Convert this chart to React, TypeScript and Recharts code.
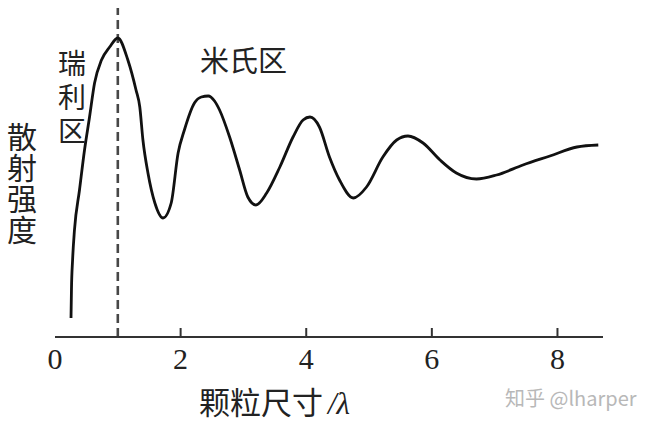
import React from 'react';
import { LineChart, Line, XAxis, YAxis, ReferenceLine } from 'recharts';

// particle size (in units of wavelength)
const sizes = [
  0.255, 0.262, 0.28, 0.31, 0.39, 0.47, 0.55, 0.63, 0.74, 0.87, 1.0,
  1.16, 1.29, 1.35, 1.4, 1.48, 1.59, 1.72, 1.85, 1.96, 2.06, 2.22, 2.33, 2.44,
  2.54, 2.62, 2.78, 2.94, 3.07, 3.2, 3.37, 3.58, 3.79, 3.95, 4.06, 4.21, 4.37,
  4.53, 4.75, 4.96, 5.22, 5.44, 5.62, 5.86, 6.13, 6.39, 6.71, 7.03, 7.45,
  7.88, 8.31, 8.65,
];
// scattering intensity (arbitrary units)
const intensity = [
  19, 47, 77, 107, 147, 187, 220, 254, 277, 290, 299,
  277, 247, 230, 197, 164, 134, 119, 134, 184, 207, 234, 240, 241,
  236, 227, 200, 167, 140, 132, 144, 170, 200, 217, 220, 210, 180,
  157, 139, 150, 180, 197, 201, 194, 177, 164, 158, 162, 172,
  181, 190, 192,
];
const xTicks = [0, 2, 4, 6, 8];
const xDomain = [0, 8.725];
const yDomain = [0, 320];
const dividerSize = 1;
const dividerTop = 329;

const xTitle = '颗粒尺寸';
const xUnit = '/λ';
const yTitle = '散射强度';
const rayleighLabel = '瑞利区';
const mieLabel = '米氏区';
const watermark = '知乎 @lharper';

const data = sizes.map((s, i) => ({ size: s, intensity: intensity[i] }));

const CJK = '"Noto Sans CJK SC", "Noto Sans", sans-serif';
const SERIF = '"Liberation Serif", "DejaVu Serif", serif';

const XTick = (props: any) => {
  const { x, y, payload } = props;
  return (
    <g>
      {payload.value !== 0 && (
        <line x1={x} x2={x} y1={y} y2={y - 9} stroke="#333" strokeWidth={2} />
      )}
      <text
        x={x}
        y={y + 32}
        textAnchor="middle"
        fontFamily={SERIF}
        fontSize={30}
        fill="#222"
      >
        {payload.value}
      </text>
    </g>
  );
};

export default function App() {
  return (
    <div
      style={{
        position: 'absolute',
        left: 0,
        top: 0,
        width: 653,
        height: 431,
        background: '#fff',
      }}
    >
      <LineChart
        width={653}
        height={431}
        data={data}
        margin={{ top: 17, right: 50, bottom: 64, left: 55 }}
      >
        <XAxis
          dataKey="size"
          type="number"
          domain={xDomain}
          ticks={xTicks}
          allowDataOverflow
          height={30}
          tickSize={0}
          tickMargin={0}
          tickLine={false}
          tick={<XTick />}
          axisLine={{ stroke: '#333', strokeWidth: 2 }}
        />
        <YAxis
          type="number"
          domain={yDomain}
          width={0}
          tick={false}
          tickLine={false}
          axisLine={{ stroke: '#333', strokeWidth: 2 }}
        />
        <ReferenceLine
          segment={[
            { x: dividerSize, y: 0 },
            { x: dividerSize, y: dividerTop },
          ]}
          stroke="#474747"
          strokeWidth={2.6}
          strokeDasharray="9 5"
          ifOverflow="visible"
        />
        <Line
          type="monotone"
          dataKey="intensity"
          stroke="#111"
          strokeWidth={2.8}
          dot={false}
          isAnimationActive={false}
        />
      </LineChart>

      <div
        style={{
          position: 'absolute',
          left: 7,
          top: 122,
          width: 30,
          fontFamily: CJK,
          fontSize: 30,
          lineHeight: '30px',
          letterSpacing: 1,
          writingMode: 'vertical-rl',
          color: '#222',
        }}
      >
        {yTitle}
      </div>

      <div
        style={{
          position: 'absolute',
          left: 58,
          top: 49,
          width: 28,
          fontFamily: CJK,
          fontSize: 28,
          lineHeight: '28px',
          letterSpacing: 6,
          writingMode: 'vertical-rl',
          color: '#222',
        }}
      >
        {rayleighLabel}
      </div>

      <div
        style={{
          position: 'absolute',
          left: 200,
          top: 45,
          fontFamily: CJK,
          fontSize: 29,
          lineHeight: '29px',
          color: '#222',
          whiteSpace: 'nowrap',
        }}
      >
        {mieLabel}
      </div>

      <div
        style={{
          position: 'absolute',
          left: 199,
          top: 385,
          fontSize: 31,
          lineHeight: '31px',
          color: '#222',
          whiteSpace: 'nowrap',
        }}
      >
        <span style={{ fontFamily: CJK }}>{xTitle}</span>
        <span style={{ fontFamily: SERIF, marginLeft: 5, fontStyle: 'italic' }}>{xUnit}</span>
      </div>

      <div
        style={{
          position: 'absolute',
          left: 505,
          top: 387,
          fontFamily: CJK,
          fontSize: 20,
          lineHeight: '22px',
          color: '#b8b8b8',
          whiteSpace: 'nowrap',
        }}
      >
        {watermark}
      </div>
    </div>
  );
}
